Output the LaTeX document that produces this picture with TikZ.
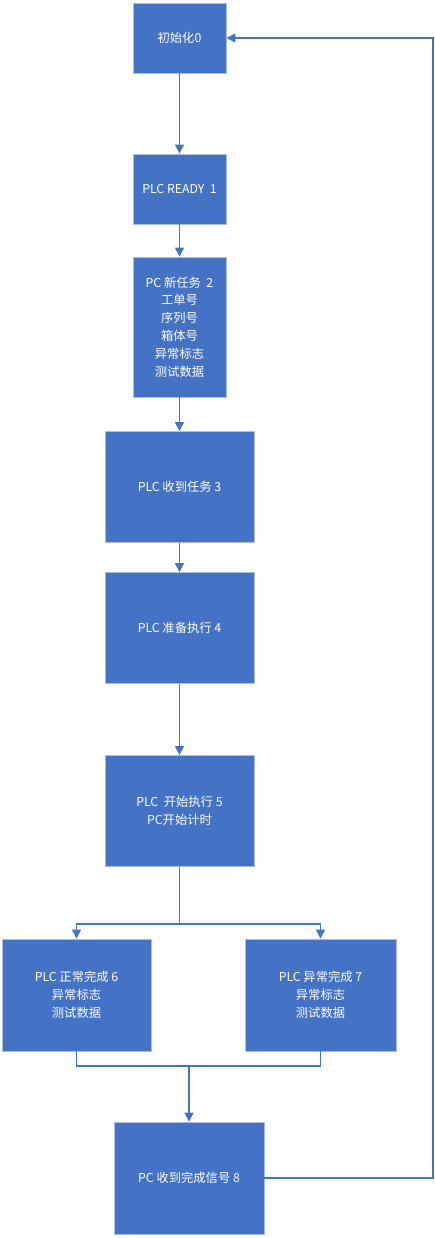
\documentclass[tikz,border=0pt]{standalone}
\usepackage{fontspec}
\setmainfont{Noto Sans CJK SC}
\usetikzlibrary{arrows.meta}

\definecolor{boxblue}{HTML}{4472C4}
\definecolor{boxedge}{HTML}{A9BCE2}

\tikzset{
  stepbox/.style={rectangle, fill=boxblue, draw=boxedge, line width=0.8pt,
    text=white, align=center, font=\fontsize{12.3}{17.8}\selectfont,
    inner sep=0pt, minimum width=#1},
  stepbox/.default=93pt,
  flow/.style={draw=boxblue, line width=1.2pt},
  arr/.style={flow, -{Triangle[width=9pt,length=9pt]}}
}

\begin{document}
\begin{tikzpicture}[x=1pt, y=-1pt]
        \useasboundingbox (0,0) rectangle (435,1238);

        % Draw the state boxes
        \node[stepbox, minimum height=70pt] (s0) at (179.5, 38) {初始化0};
        \node[stepbox, minimum height=70pt] (s1) at (179.5, 189) {PLC READY\ \ 1};
        \node[stepbox, minimum height=140pt] (s2) at (179.5, 327) {PC 新任务\ \ 2\\工单号\\序列号\\箱体号\\异常标志\\测试数据};
        \node[stepbox=149pt, minimum height=111pt] (s3) at (179.5, 487) {PLC 收到任务 3};
        \node[stepbox=149pt, minimum height=111pt] (s4) at (179.5, 628) {PLC 准备执行 4};
        \node[stepbox=149pt, minimum height=111pt] (s5) at (179.5, 811) {PLC\ \ 开始执行 5\\PC开始计时};
        \node[stepbox=149pt, minimum height=112pt] (s6) at (76.5, 995) {PLC 正常完成 6\\异常标志\\测试数据};
        \node[stepbox=151pt, minimum height=112pt] (s7) at (320.5, 995) {PLC 异常完成\ 7\\异常标志\\测试数据};
        \node[stepbox=150pt, minimum height=112pt] (s8) at (189, 1178) {PC 收到完成信号 8};

        % Draw the main sequence
        \draw[arr] (s0) -- (s1);
        \draw[arr] (s1) -- (s2);
        \draw[arr] (s2) -- (s3);
        \draw[arr] (s3) -- (s4);
        \draw[arr] (s4) -- (s5);

        % Draw the split into the two endings
        \coordinate (split) at (179.5, 924);
        \draw[flow] (s5.south) -- (split);
        \draw[arr] (split) -| (s6.north);
        \draw[arr] (split) -| (s7.north);

        % Draw the merge
        \coordinate (merge) at (189, 1066);
        \draw[flow] (s6.south) |- (merge);
        \draw[flow] (s7.south) |- (merge);
        \draw[arr] (merge) -- (s8.north);

        % Draw the loop back
        \coordinate (back) at (433, 1178);
        \draw[arr] (s8.east) -- (back) |- (s0.east);
    \end{tikzpicture}
\end{document}
